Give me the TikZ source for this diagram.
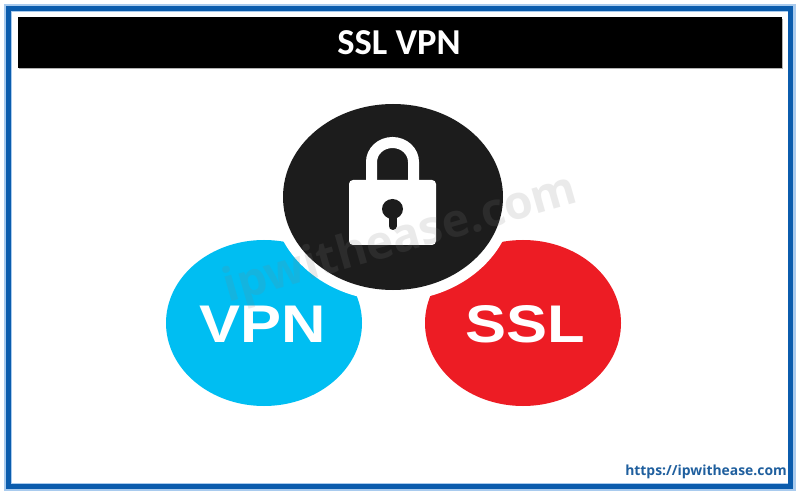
\documentclass[tikz,border=0pt]{standalone}
\usepackage{fontspec}
\setmainfont{Liberation Sans}
\newfontfamily\titlefont{Carlito}
\newfontfamily\markfont{Open Sans}
\definecolor{frameblue}{HTML}{0B5CAD}
\definecolor{frameglow}{HTML}{A9CBEE}
\definecolor{urlblue}{HTML}{1F5F9E}
\definecolor{vpnblue}{HTML}{00BEF2}
\definecolor{sslred}{HTML}{ED1C24}
\definecolor{lockblack}{HTML}{1C1C1C}
\tikzset{
  x=1pt,y=-1pt,
  badge/.style={font=\bfseries\fontsize{53}{53}\selectfont,text=white,inner sep=0pt,xscale=1.16},
}
\begin{document}
\begin{tikzpicture}
\useasboundingbox (0,0) rectangle (800,494);
\fill[white] (0,0) rectangle (800,494);
% frame
\draw[frameglow,line width=8] (8,8) rectangle (792,487);
\draw[frameblue,line width=5] (8.5,8.5) rectangle (790.5,486);
% title bar
\fill[black!30] (19,19) rectangle (783,69.5);
\fill[black] (18,17.5) rectangle (782,68);
\node[text=white,font=\titlefont\bfseries\fontsize{36.5}{36}\selectfont,inner sep=0pt] (title) at (399,43) {SSL VPN};
% discs
\fill[vpnblue] (264,323) ellipse [x radius=98,y radius=83];
\fill[sslred] (523,323) ellipse [x radius=98,y radius=83];
\fill[white] (393,197) ellipse [x radius=121,y radius=104];
\fill[lockblack] (393,197) ellipse [x radius=110,y radius=93];
% padlock
\draw[white,line width=11] (371.5,185) -- (371.5,162) arc[start angle=180,end angle=360,x radius=21,y radius=19.5] -- (413.5,185);
\fill[white,rounded corners=4] (349,180) rectangle (436,245);
\fill[lockblack] (392.5,209) ellipse [x radius=10.5,y radius=10];
\draw[lockblack,line width=8,line cap=round] (392.5,212) -- (392.5,226);
% labels
\node[badge] (vpn) at (263,324) {VPN};
\node[badge] (ssl) at (525.5,324) {SSL};
% watermark
\node[text=gray,opacity=.16,font=\markfont\bfseries\fontsize{46.5}{46}\selectfont,inner sep=0pt,rotate=16] (mark) at (401,241) {ipwithease.com};
% url
\node[text=urlblue,font=\markfont\bfseries\fontsize{13.9}{15}\selectfont,anchor=east,inner sep=0pt] (url) at (787,472) {https://ipwithease.com};
\end{tikzpicture}
\end{document}
